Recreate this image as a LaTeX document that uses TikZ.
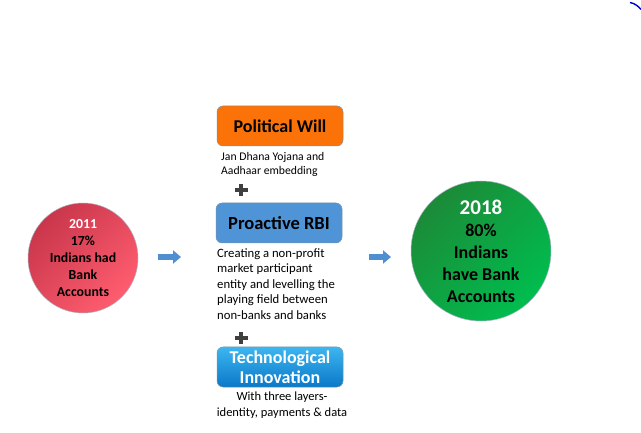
\documentclass[tikz,border=0pt]{standalone}
\usepackage{fontspec}
\setmainfont{Carlito}
\usetikzlibrary{arrows.meta}
\definecolor{redA}{HTML}{C9364B}
\definecolor{redB}{HTML}{FF5D6F}
\definecolor{greenA}{HTML}{1C8A38}
\definecolor{greenB}{HTML}{00BD4E}
\definecolor{orangeW}{HTML}{FA7208}
\definecolor{blueR}{HTML}{4F94D6}
\definecolor{techA}{HTML}{3DB6F0}
\definecolor{techB}{HTML}{0A78C8}
\definecolor{arrowB}{HTML}{4F8ED0}
\definecolor{plusG}{HTML}{3F3F3F}
\definecolor{edgeG}{HTML}{7F93AA}
\begin{document}
\begin{tikzpicture}[x=1pt,y=-1pt,
  titlebox/.style={rounded corners=6pt, minimum width=126pt, minimum height=40pt, inner sep=0pt, draw=edgeG, line width=0.5pt, font=\bfseries\fontsize{18}{20}\selectfont},
  bodytext/.style={inner sep=0pt, font=\fontsize{12.7}{15.4}\selectfont, text=black},
  blockarrow/.style={color=arrowB, line width=6pt, -{Triangle[length=8pt,width=13pt]}},
  plusbar/.style={plusG, line width=3.6pt},
  bigcircle/.style={circle, draw=edgeG!70, line width=0.5pt, inner sep=0pt, align=center, font=\bfseries}
]
\useasboundingbox (0,0) rectangle (641,433);
\fill[white] (0,0) rectangle (641,433);

% circles
\node[bigcircle, minimum size=110pt, top color=redA, bottom color=redB, shading angle=45,
  font=\bfseries\fontsize{13.8}{17}\selectfont] (red) at (83,258)
  {{\color{white}2011}\\17\%\\Indians had\\Bank\\Accounts};
\node[bigcircle, minimum size=140pt, top color=greenA, bottom color=greenB, shading angle=45,
  font=\bfseries\fontsize{18}{22}\selectfont] (green) at (481,251)
  {{\color{white}\fontsize{21}{22}\selectfont 2018}\\80\%\\Indians\\have Bank\\Accounts};

% boxes
\node[titlebox, fill=orangeW] (pol) at (280,126) {Political Will};
\node[titlebox, fill=blueR, font=\bfseries\fontsize{18.5}{20}\selectfont] (rbi) at (279,223) {Proactive RBI};
\node[titlebox, top color=techA, bottom color=techB, text=white, align=center,
  font=\bfseries\fontsize{18}{20}\selectfont] (tech) at (280,367) {Technological\\Innovation};

% body texts
\node[bodytext, font=\fontsize{11.7}{14}\selectfont, align=left, anchor=west] (poltxt) at (221,164)
  {Jan Dhana Yojana and\\Aadhaar embedding};
\node[bodytext, align=left, anchor=west] (rbitxt) at (217,284)
  {Creating a non-profit\\market participant\\entity and levelling the\\playing field between\\non-banks and banks};
\node[bodytext, font=\fontsize{12.5}{16}\selectfont, align=center] (techtxt) at (282,405)
  {With three layers-\\identity, payments \& data};

% plus signs
\coordinate (p1) at (241,190);
\coordinate (p2) at (241,338);
\foreach \p in {p1,p2}{
  \draw[plusbar] ([xshift=-6.5pt]\p) -- ([xshift=6.5pt]\p);
  \draw[plusbar] ([yshift=-6pt]\p) -- ([yshift=6pt]\p);
}

% block arrows
\coordinate (a1s) at (158,257);
\coordinate (a1e) at (181,257);
\coordinate (a2s) at (369,257);
\coordinate (a2e) at (391,257);
\draw[blockarrow] (a1s) -- (a1e);
\draw[blockarrow] (a2s) -- (a2e);

% stray arc top right
\coordinate (arcS) at (630,2.5);
\coordinate (arcE) at (641,9.5);
\draw[color=blue!85!black, line width=1.4pt] (arcS) .. controls (635,3.5) and (638,6) .. (arcE);
\end{tikzpicture}
\end{document}
